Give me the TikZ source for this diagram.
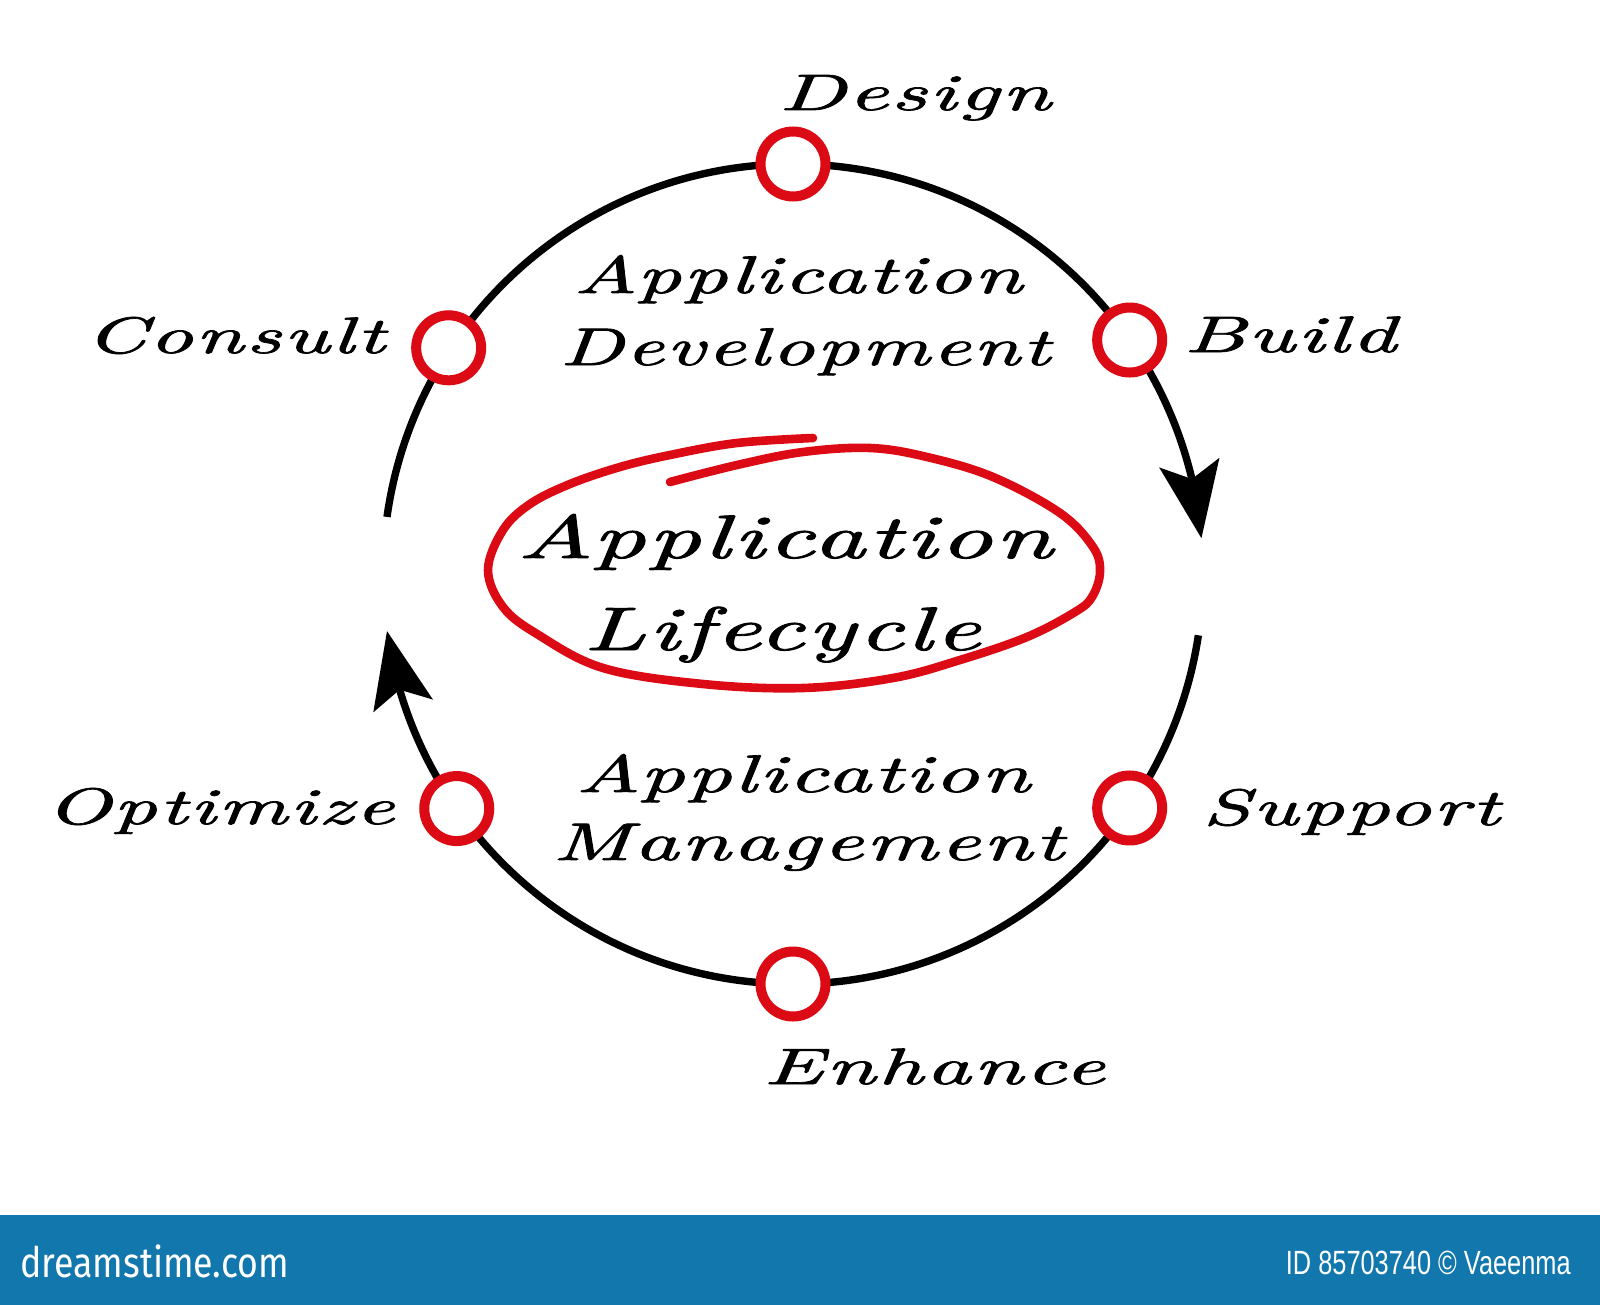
\documentclass[tikz,border=0pt]{standalone}
\usepackage{fontspec}
\newfontfamily\hand{lmroman10-italic.otf}[LetterSpace=3,FakeBold=1.3]
\newfontfamily\bannerfont{Fira Sans}
\newfontfamily\idfont{Liberation Sans}
\usetikzlibrary{arrows.meta,bending}
\definecolor{ared}{RGB}{220,10,20}
\definecolor{bannerblue}{RGB}{17,119,173}
\begin{document}
\begin{tikzpicture}[x=0.5pt,y=0.5pt,
  dot/.style={circle, draw=ared, fill=white, line width=5pt, minimum size=32.5pt, inner sep=0pt},
  ring/.style={line width=3.7pt, draw=black},
  arrowtip/.style={-{Stealth[length=38pt,width=30pt,inset=8pt]}},
  lbl/.style={inner sep=0pt, anchor=base, text=black},
  fs/.style={font=\hand\fontsize{25.6}{30}\selectfont},
  fm/.style={font=\hand\fontsize{26.5}{31}\selectfont},
  fl/.style={font=\hand\fontsize{30.7}{36}\selectfont},
  hoop/.style={draw=ared, line width=4.3pt, line cap=round, line join=round},
]
\useasboundingbox (0,0) rectangle (1600,-1305);
\fill[white] (0,0) rectangle (1600,-1305);
\coordinate (C) at (793,-574);
% cycle arcs
\draw[ring, arrowtip] ([shift={(172:410)}]C) arc[start angle=172, end angle=5, radius=410];
\draw[ring, arrowtip] ([shift={(-8.6:410)}]C) arc[start angle=-8.6, end angle=-172, radius=410];
% stage markers
\node[dot] (design) at ([shift={(90:410)}]C) {};
\node[dot] (build) at ([shift={(34.8:410)}]C) {};
\node[dot] (support) at ([shift={(-34.8:410)}]C) {};
\node[dot] (enhance) at ([shift={(270:410)}]C) {};
\node[dot] (optimize) at ([shift={(214.9:410)}]C) {};
\node[dot] (consult) at ([shift={(146.7:412)}]C) {};
% labels
\node[lbl, fs, xscale=1.71] (tdesign) at (915,-110) {Design};
\node[lbl, fs, xscale=1.70] (tbuild) at (1290,-352) {Build};
\node[lbl, fs, xscale=1.67] (tconsult) at (235,-353) {Consult};
\node[lbl, fs, xscale=1.65] (toptimize) at (220,-824) {Optimize};
\node[lbl, fs, xscale=1.65] (tsupport) at (1351,-825) {Support};
\node[lbl, fs, xscale=1.72] (tenhance) at (934,-1084) {Enhance};
\node[lbl, fm, xscale=1.62] (tapp1) at (798,-293) {Application};
\node[lbl, fm, xscale=1.57] (tdev) at (805,-365) {Development};
\node[lbl, fm, xscale=1.64] (tapp2) at (803,-792) {Application};
\node[lbl, fm, xscale=1.65] (tman) at (808,-860) {Management};
\node[lbl, fl, xscale=1.67] (tapp3) at (785,-558) {Application};
\node[lbl, fl, xscale=1.61] (tlife) at (782,-650) {Lifecycle};
% hand-drawn red ellipse
\draw[hoop] plot[smooth, tension=0.6] coordinates {
 (670,-482) (737,-465) (803,-452) (870,-448) (927,-457) (993,-477)
 (1060,-513) (1093,-547) (1100,-572) (1092,-597) (1075,-612) (1027,-637)
 (960,-660) (893,-678) (803,-688) (703,-684) (603,-668) (537,-634)
 (503,-607) (488,-570) (503,-530) (530,-504) (570,-484) (620,-467)
 (670,-455) (737,-443) (813,-438)};
% banner
\fill[bannerblue] (0,-1215) rectangle (1600,-1305);
\node[inner sep=0pt, anchor=base west, text=white, xscale=0.85,
  font=\bannerfont\fontsize{21}{22}\selectfont] (ds) at (20,-1277) {dreamstime.com};
\node[inner sep=0pt, anchor=base east, text=white, xscale=0.755,
  font=\idfont\fontsize{16.8}{18}\selectfont] (idtxt) at (1571,-1274) {ID 85703740 © Vaeenma};
\end{tikzpicture}
\end{document}
